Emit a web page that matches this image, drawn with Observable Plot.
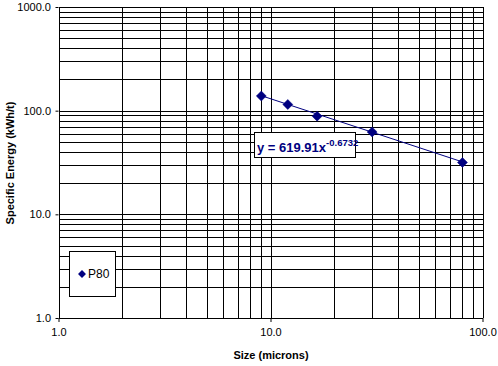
<!DOCTYPE html>
<html><head><meta charset="utf-8">
<script src="https://cdn.jsdelivr.net/npm/d3@7"></script>
<script src="https://cdn.jsdelivr.net/npm/@observablehq/plot@0.6"></script>
<style>
body{margin:0;background:#fff;}
#chart{position:relative;width:498px;height:366px;}
svg{font-family:"Liberation Sans",Arial,sans-serif;}
</style></head>
<body><div id="chart"></div>
<script>
// Data
const sizes = [9, 12, 16.5, 30, 80];            // microns
const energies = [140, 116, 89.5, 63, 32];       // kWh/t
const seriesName = "P80";
// Power trend line endpoints (straight in log-log)
const trendX = [9, 80];
const trendY = [141, 32.4];
const trendLabel = "y = 619.91x";
const trendExp = "-0.6732";
// Axis ticks
const xTicks = [1, 10, 100];
const yTicks = [1, 10, 100, 1000];
const xGrid = [1,2,3,4,5,6,7,8,9,10,20,30,40,50,60,70,80,90,100];
const yGrid = [1,2,3,4,5,6,7,8,9,10,20,30,40,50,60,70,80,90,100,200,300,400,500,600,700,800,900,1000];

const navy = "#000080";
const pts = sizes.map((s, i) => ({s, e: energies[i]}));
const trend = trendX.map((x, i) => ({x, y: trendY[i]}));

const plot = Plot.plot({
  width: 498, height: 366,
  marginLeft: 58.5, marginRight: 15.5, marginTop: 7, marginBottom: 48,
  style: {fontFamily: '"Liberation Sans",Arial,sans-serif', fontSize: "11px", color: "#000", background: "#fff"},
  x: {type: "log", domain: [1, 100]},
  y: {type: "log", domain: [1, 1000]},
  marks: [
    Plot.ruleX(xGrid, {stroke: "#000", strokeWidth: 1, strokeOpacity: 1, shapeRendering: "crispEdges"}),
    Plot.ruleY(yGrid, {stroke: "#000", strokeWidth: 1, strokeOpacity: 1, shapeRendering: "crispEdges"}),
    Plot.axisX({ticks: xTicks, tickFormat: d => d.toFixed(1), tickSize: 4, tickPadding: 6,
      label: "Size (microns)", labelAnchor: "center", labelArrow: "none", labelOffset: 40,
      fontSize: 11}),
    Plot.axisY({ticks: yTicks, tickFormat: d => d.toFixed(1), tickSize: 3, tickPadding: 5,
      label: "Specific Energy (kWh/t)", labelAnchor: "center", labelArrow: "none", labelOffset: 53,
      fontSize: 11}),
    Plot.line(trend, {x: "x", y: "y", stroke: navy, strokeWidth: 1}),
    Plot.dot(pts, {x: "s", y: "e", symbol: "diamond2", r: 4.5, fill: navy, stroke: navy, strokeWidth: 0.5})
  ]
});
document.getElementById("chart").appendChild(plot);

const svg = d3.select(plot);
// bold axis titles
svg.selectAll('[aria-label="x-axis label"] text, [aria-label="y-axis label"] text').attr("font-weight", "bold");

// Trend equation box (anchored via scales)
const xs = plot.scale("x"), ys = plot.scale("y");
const bx = xs.apply(8.36), by = ys.apply(61.8);
const g = svg.append("g").attr("text-anchor", "start");
g.append("rect").attr("x", Math.round(bx) + 0.5).attr("y", Math.round(by) + 0.5)
  .attr("width", 101).attr("height", 25).attr("fill", "#fff").attr("stroke", "#000").attr("stroke-width", 1);
const t = g.append("text").attr("x", Math.round(bx) + 3).attr("y", Math.round(by) + 20)
  .attr("text-anchor", "start")
  .attr("fill", navy).attr("font-weight", "bold").attr("font-size", 13);
t.append("tspan").text(trendLabel);
t.append("tspan").attr("dy", -6).attr("font-size", 9.5).text(trendExp);

// Legend box
const lx = xs.apply(1.125), ly = ys.apply(4.41);
const lg = svg.append("g").attr("text-anchor", "start");
lg.append("rect").attr("x", Math.round(lx) + 0.5).attr("y", Math.round(ly) + 0.5)
  .attr("width", 46).attr("height", 45).attr("fill", "#fff").attr("stroke", "#000");
lg.append("path").attr("d", d3.symbol(d3.symbolDiamond2, 40)())
  .attr("transform", `translate(${Math.round(lx) + 13},${Math.round(ly) + 23})`).attr("fill", navy);
lg.append("text").attr("x", Math.round(lx) + 19).attr("y", Math.round(ly) + 27)
  .attr("text-anchor", "start")
  .attr("font-size", 12).attr("fill", "#000").text(seriesName);
</script></body></html>
